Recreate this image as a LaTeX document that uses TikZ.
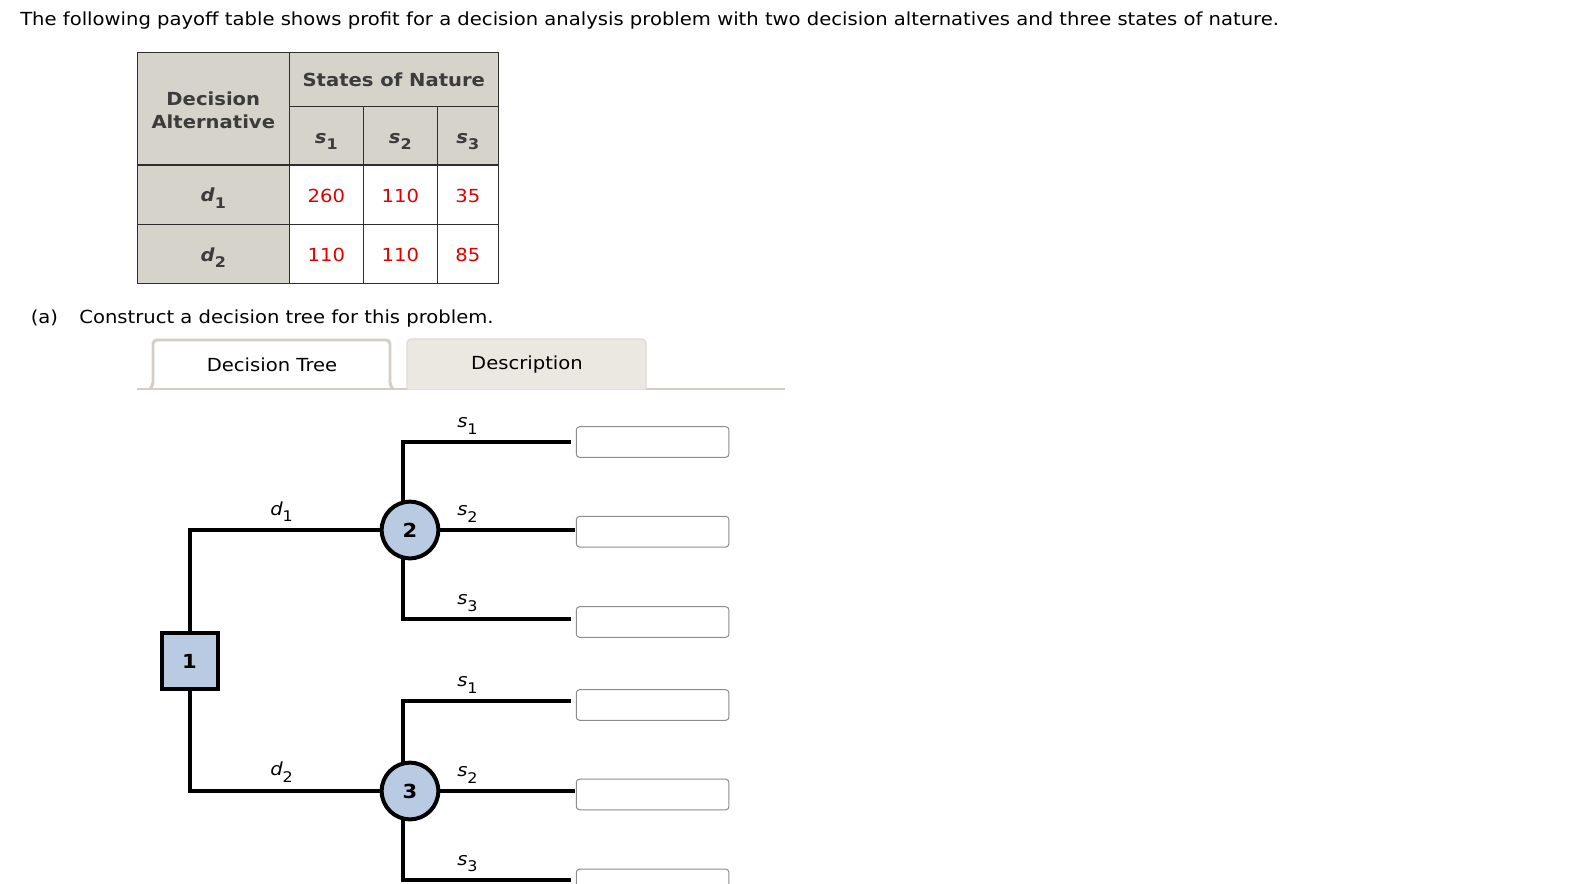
\documentclass[tikz,border=0pt]{standalone}
\usepackage{fontspec}
\setmainfont{DejaVu Sans}[FakeStretch=1.088]
\usetikzlibrary{backgrounds,calc}
\definecolor{hdrfill}{HTML}{D6D3CB}
\definecolor{hdrtext}{HTML}{3C3C3C}
\definecolor{gridc}{HTML}{2E2E2E}
\definecolor{valred}{HTML}{E00000}
\definecolor{tabline}{HTML}{D3CFC7}
\definecolor{tabfill}{HTML}{EBE8E2}
\definecolor{tabedge}{HTML}{DEDAD3}
\definecolor{nodefill}{HTML}{B9CAE3}
\definecolor{boxedge}{HTML}{8C8C8C}
\newcommand{\tsub}[3]{#1\raisebox{-5pt}{\fontsize{#3}{#3}\selectfont\upshape #2}}
\begin{document}
\begin{tikzpicture}[x=0.75pt,y=-0.75pt,
  txt/.style={inner sep=0pt,anchor=base},
  hdr/.style={txt,font=\fontsize{13.5}{16}\selectfont\bfseries,text=hdrtext},
  val/.style={txt,font=\fontsize{13.5}{16}\selectfont,text=valred},
  body/.style={txt,anchor=base west,font=\fontsize{13.5}{16}\selectfont},
  tabtxt/.style={txt,font=\fontsize{13.5}{16}\selectfont},
  branch/.style={line width=3pt,line join=miter},
  dnode/.style={draw,line width=3pt,fill=nodefill,minimum size=42pt,inner sep=0pt,font=\fontsize{14.5}{16}\selectfont\bfseries},
  cnode/.style={circle,draw,line width=3pt,fill=nodefill,minimum size=42.5pt,inner sep=0pt,font=\fontsize{14.5}{16}\selectfont\bfseries},
  ansbox/.style={draw=boxedge,line width=0.75pt,rounded corners=2.5pt,fill=white,minimum width=114.5pt,minimum height=23pt,inner sep=0pt},
  lbl/.style={txt,anchor=base west,font=\fontsize{13.5}{15}\selectfont\itshape}]
\useasboundingbox (0,0) rectangle (1592,883);
\clip (0,0) rectangle (1592,883);

% title
\node[body] (title) at (20,25.5) {The following payoff table shows profit for a decision analysis problem with two decision alternatives and three states of nature.};

% table
\fill[hdrfill] (137.3,52.3) rectangle (289.3,283.3);
\fill[hdrfill] (289.3,52.3) rectangle (498.3,165);
\draw[gridc,line width=1pt] (289.3,52.3) -- (289.3,283.3);
\draw[gridc,line width=1pt] (363.3,106.3) -- (363.3,283.3);
\draw[gridc,line width=1pt] (437.3,106.3) -- (437.3,283.3);
\draw[gridc,line width=1pt] (289.3,106.3) -- (498.3,106.3);
\draw[gridc,line width=1pt] (137.3,165) -- (498.3,165);
\draw[gridc,line width=1pt] (137.3,224.3) -- (498.3,224.3);
\draw[gridc,line width=1.2pt] (137.3,52.3) rectangle (498.3,283.3);

\node[hdr] (hda) at (213.3,105) {Decision};
\node[hdr] (hdb) at (213.3,128.3) {Alternative};
\node[hdr] (hsn) at (393.8,86.7) {States of Nature};
\node[hdr] (hs1) at (326.3,143.3) {\tsub{\textit{s}}{1}{11}};
\node[hdr] (hs2) at (400.3,143.3) {\tsub{\textit{s}}{2}{11}};
\node[hdr] (hs3) at (467.8,143.3) {\tsub{\textit{s}}{3}{11}};
\node[hdr] (hd1) at (213.3,201.7) {\tsub{\textit{d}}{1}{11}};
\node[hdr] (hd2) at (213.3,261) {\tsub{\textit{d}}{2}{11}};
\node[val] (v11) at (326.3,202.3) {260};
\node[val] (v12) at (400.3,202.3) {110};
\node[val] (v13) at (467.8,202.3) {35};
\node[val] (v21) at (326.3,261) {110};
\node[val] (v22) at (400.3,261) {110};
\node[val] (v23) at (467.8,261) {85};

% part (a)
\node[body] (parta) at (30.5,323) {(a)\hspace{16pt}Construct a decision tree for this problem.};

% tabs
\draw[tabline,line width=2.2pt] (137,389) -- (785,389);
\filldraw[fill=tabfill,draw=tabedge,line width=0.8pt,rounded corners=3pt] (407,389.5) -- (407,339) -- (646,339) -- (646,389.5);
\fill[white] (153,340) rectangle (390,388);
\draw[tabline,line width=2.2pt,rounded corners=3pt] (150,389) -- (153,386) -- (153,340) -- (390,340) -- (390,386) -- (393,389);
\node[tabtxt] (tab1) at (272,371) {Decision Tree};
\node[tabtxt] (tab2) at (527,369) {Description};

% tree nodes
\node[dnode] (n1) at (189.5,661) {1};
\node[cnode] (n2) at (410,530) {2};
\node[cnode] (n3) at (410,791) {3};

\node[ansbox] (b21) at (652.6,442) {};
\node[ansbox] (b22) at (652.6,531.7) {};
\node[ansbox] (b23) at (652.6,622) {};
\node[ansbox] (b31) at (652.6,705) {};
\node[ansbox] (b32) at (652.6,794.5) {};
\node[ansbox] (b33) at (652.6,884.4) {};

\coordinate (v2) at (403,530);
\coordinate (v3) at (403,791);
\coordinate (e21) at (570.6,442);
\coordinate (e22) at (574.6,530);
\coordinate (e23) at (570.6,619);
\coordinate (e31) at (570.6,701);
\coordinate (e32) at (574.6,791);
\coordinate (e33) at (570.6,879.5);

\begin{scope}[on background layer]
\draw[branch] (n2.center) -| (n1.center);
\draw[branch] (n3.center) -| (n1.center);
\draw[branch] (e21) -| (v2) |- (e23);
\draw[branch] (n2.center) -- (e22);
\draw[branch] (e31) -| (v3) |- (e33);
\draw[branch] (n3.center) -- (e32);
\end{scope}

% labels
\node[lbl] (ld1) at (270,515) {\tsub{d}{1}{11}};
\node[lbl] (ld2) at (270,775.5) {\tsub{d}{2}{11}};
\node[lbl] (l21) at (457,427.5) {\tsub{s}{1}{11}};
\node[lbl] (l22) at (457,515.5) {\tsub{s}{2}{11}};
\node[lbl] (l23) at (457,604.5) {\tsub{s}{3}{11}};
\node[lbl] (l31) at (457,686.5) {\tsub{s}{1}{11}};
\node[lbl] (l32) at (457,776.5) {\tsub{s}{2}{11}};
\node[lbl] (l33) at (457,865) {\tsub{s}{3}{11}};
\end{tikzpicture}
\end{document}
